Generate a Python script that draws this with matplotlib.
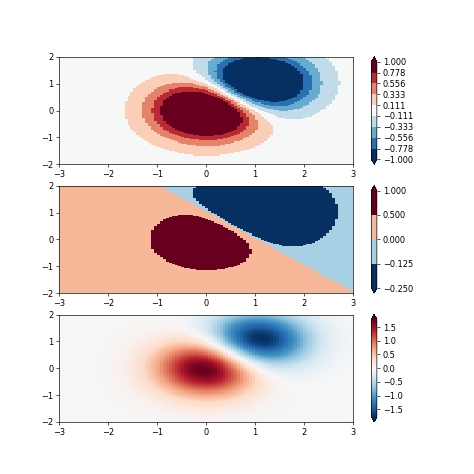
import numpy as np
import matplotlib
matplotlib.use("Agg")
import matplotlib.pyplot as plt
import matplotlib.colors as colors

# Field description: two Gaussian bumps (positive at origin, negative at (1,1))
centers_x = [0.0, 1.0]
centers_y = [0.0, 1.0]
amplitudes = [2.0, -2.0]
x_range = [-3, 3]
y_range = [-2, 2]
N = 100

bounds_even = np.linspace(-1, 1, 10)
bounds_uneven = [-0.25, -0.125, 0, 0.5, 1]
cbar3_ticks = [-1.5, -1.0, -0.5, 0.0, 0.5, 1.0, 1.5]

X, Y = np.mgrid[x_range[0]:x_range[1]:complex(0, N), y_range[0]:y_range[1]:complex(0, N)]
Z = np.zeros_like(X)
for cx, cy, a in zip(centers_x, centers_y, amplitudes):
    Z += a * np.exp(-(X - cx)**2 - (Y - cy)**2)
Z = Z[:-1, :-1]

fig, ax = plt.subplots(3, 1, figsize=(8, 8), dpi=59.25)

norm = colors.BoundaryNorm(boundaries=bounds_even, ncolors=256)
pcm = ax[0].pcolormesh(X, Y, Z, norm=norm, cmap='RdBu_r')
fig.colorbar(pcm, ax=ax[0], extend='both', orientation='vertical')

norm = colors.BoundaryNorm(boundaries=bounds_uneven, ncolors=256)
pcm = ax[1].pcolormesh(X, Y, Z, norm=norm, cmap='RdBu_r')
fig.colorbar(pcm, ax=ax[1], extend='both', orientation='vertical')

pcm = ax[2].pcolormesh(X, Y, Z, cmap='RdBu_r', vmin=-np.max(Z))
cb = fig.colorbar(pcm, ax=ax[2], extend='both', orientation='vertical')
cb.set_ticks(cbar3_ticks)

fig.savefig("out.png")
